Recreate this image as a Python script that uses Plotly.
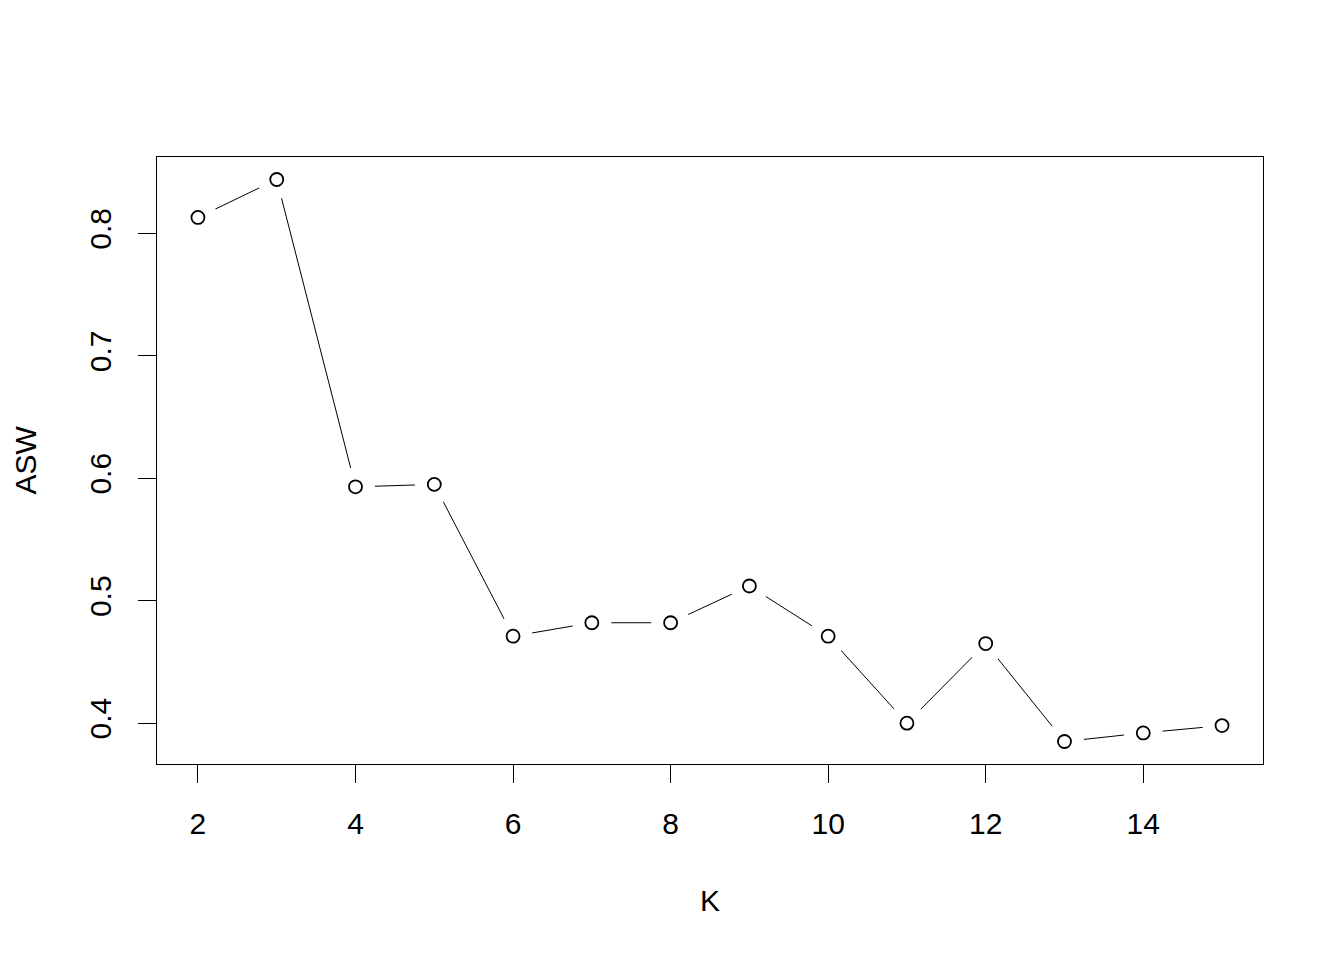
import plotly.graph_objects as go

# average silhouette width by number of clusters
k_values = [2, 3, 4, 5, 6, 7, 8, 9, 10, 11, 12, 13, 14, 15]
asw_values = [0.813, 0.844, 0.593, 0.595, 0.471, 0.482, 0.482, 0.512,
              0.471, 0.400, 0.465, 0.385, 0.392, 0.398]
x_ticks = [2, 4, 6, 8, 10, 12, 14]
y_ticks = [0.4, 0.5, 0.6, 0.7, 0.8]

FONT = "Liberation Sans, Arial, sans-serif"

fig = go.Figure()

# connecting line
fig.add_trace(go.Scatter(
    x=k_values, y=asw_values, mode="lines",
    line=dict(color="black", width=1), hoverinfo="skip"
))
# white discs so the line stops short of each point (like R type="b")
fig.add_trace(go.Scatter(
    x=k_values, y=asw_values, mode="markers",
    marker=dict(symbol="circle", size=39, color="white", line=dict(width=0)),
    hoverinfo="skip"
))
# open circles
fig.add_trace(go.Scatter(
    x=k_values, y=asw_values, mode="markers",
    marker=dict(symbol="circle-open", size=13, color="black", line=dict(width=1.8))
))

# R pads the data range by 4% on each side
xr = max(k_values) - min(k_values)
yr = max(asw_values) - min(asw_values)

fig.update_layout(
    width=1344, height=960,
    margin=dict(l=149, r=89, t=149, b=204),
    plot_bgcolor="white", paper_bgcolor="white",
    showlegend=False,
    font=dict(family=FONT, size=30, color="black"),
    annotations=[
        dict(text="K", x=0.5, y=0, xref="paper", yref="paper",
             xanchor="center", yanchor="middle", yshift=-136,
             showarrow=False, font=dict(size=30)),
        dict(text="ASW", x=0, y=0.5, xref="paper", yref="paper",
             xanchor="center", yanchor="middle", xshift=-132, textangle=-90,
             showarrow=False, font=dict(size=30)),
    ],
)

fig.update_xaxes(
    range=[min(k_values) - 0.04 * xr, max(k_values) + 0.04 * xr],
    tickvals=x_ticks, ticks="outside", ticklen=18, tickwidth=1.3, tickcolor="black",
    showline=True, linecolor="black", linewidth=1.3, mirror=True,
    showgrid=False, zeroline=False, ticklabelstandoff=15,
)
fig.update_yaxes(
    range=[min(asw_values) - 0.04 * yr, max(asw_values) + 0.04 * yr],
    tickvals=y_ticks, ticktext=[f"{v:.1f}" for v in y_ticks], tickangle=-90,
    ticks="outside", ticklen=18, tickwidth=1.3, tickcolor="black",
    showline=True, linecolor="black", linewidth=1.3, mirror=True,
    showgrid=False, zeroline=False, ticklabelstandoff=15,
)

fig.write_html("out.html")
